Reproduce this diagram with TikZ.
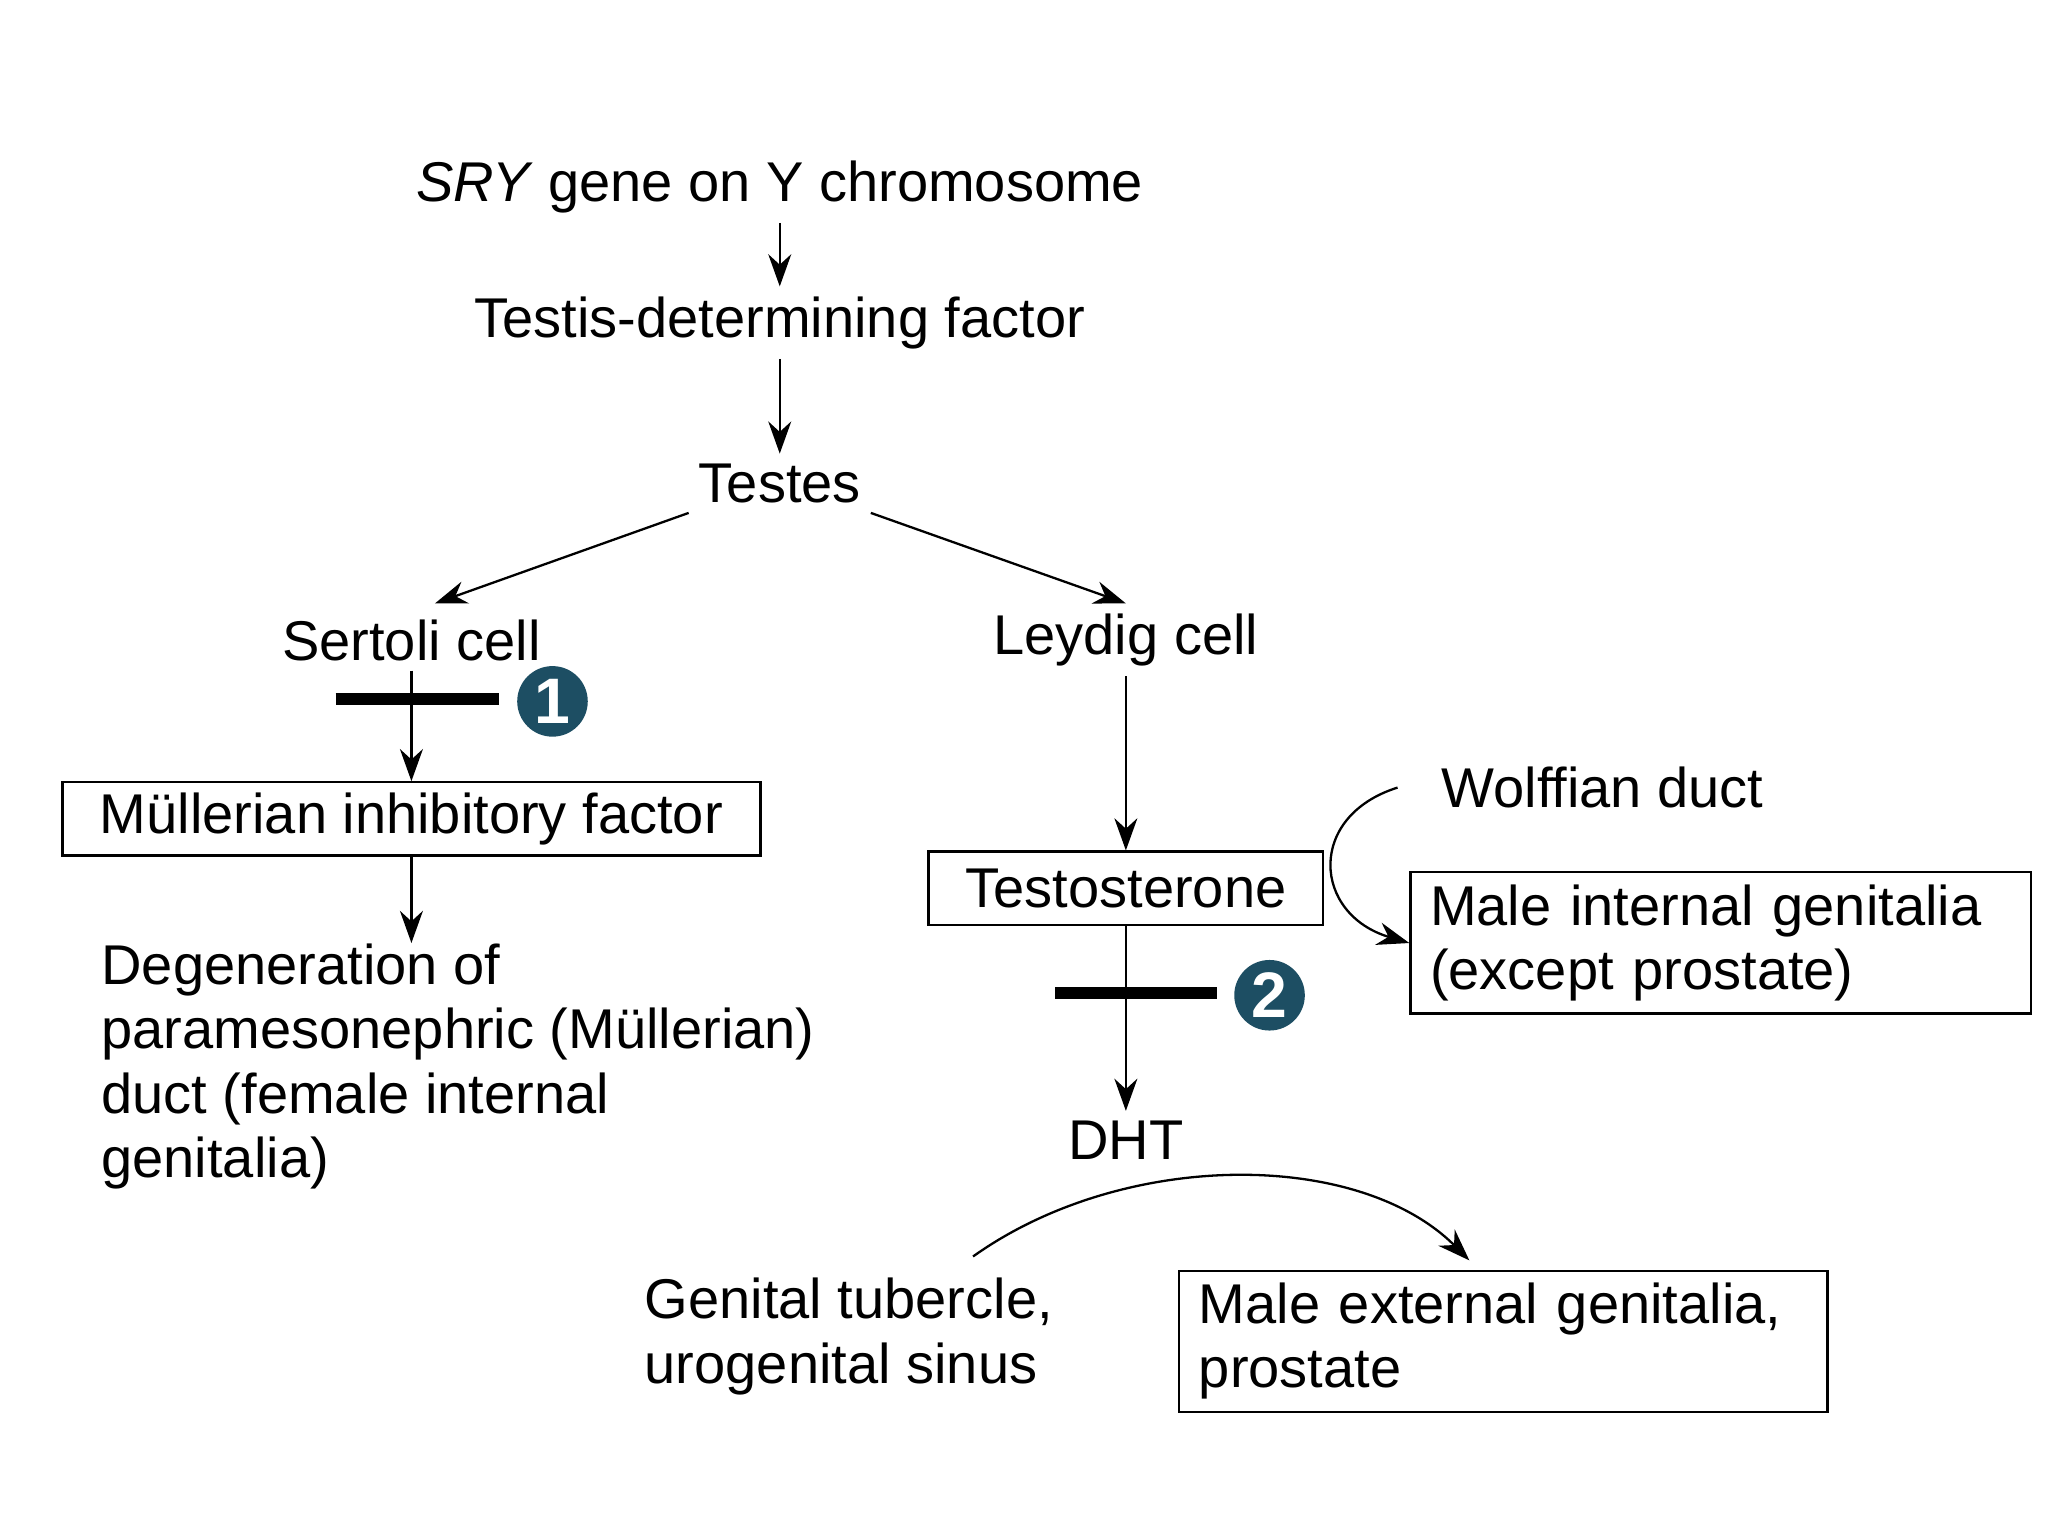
\documentclass[tikz,border=0pt]{standalone}
\usepackage{fontspec}
\setmainfont{Liberation Sans}
\usetikzlibrary{arrows.meta}
\definecolor{badge}{HTML}{1D4E63}
\tikzset{
  lbl/.style={font=\fontsize{12.2}{14}\selectfont, inner sep=2pt},
  box/.style={lbl, draw, line width=0.5pt, inner xsep=5pt},
  flow/.style={-{Stealth[length=7pt,width=5pt]}, line width=0.5pt},
  block/.style={line width=2.6pt},
  badgenode/.style={circle, fill=badge, text=white, inner sep=0pt, minimum size=0.54cm,
    font=\bfseries\fontsize{14}{14}\selectfont}
}
\begin{document}
\begin{tikzpicture}[x=0.01cm,y=-0.01cm]
  \useasboundingbox (0,0) rectangle (1568,1176);
  % main chain
  \node[lbl] (sry) at (597,143) {\textit{SRY} gene on Y chromosome};
  \node[lbl] (tdf) at (597,247) {Testis-determining factor};
  \node[lbl] (testes) at (597,370) {Testes};
  \node[lbl] (sertoli) at (315,490) {Sertoli cell};
  \node[lbl] (leydig) at (862,490) {Leydig cell};
  % left branch
  \node[box, minimum width=5.34cm, minimum height=0.56cm] (mif) at (315,627) {Müllerian inhibitory factor};
  \node[lbl, anchor=north west, align=left, inner sep=0pt] (degen) at (77,722)
    {Degeneration of\\paramesonephric (Müllerian)\\duct (female internal\\genitalia)};
  % right branch
  \node[box, minimum width=3.02cm, minimum height=0.56cm] (testo) at (862,680) {Testosterone};
  \node[lbl] (wolff) at (1227,603) {Wolffian duct};
  \node[box, anchor=north west, align=left, text width=4.45cm, inner xsep=0.15cm, minimum height=1.08cm] (maleint) at (1079,667)
    {Male internal genitalia\\(except prostate)};
  \node[lbl] (dht) at (862,873) {DHT};
  \node[lbl, anchor=north west, align=left, inner sep=0pt] (tuber) at (493,978)
    {Genital tubercle,\\urogenital sinus};
  \node[box, anchor=north west, align=left, text width=4.66cm, inner xsep=0.15cm, minimum height=1.08cm] (maleext) at (902,972)
    {Male external genitalia,\\prostate};
  % arrows
  \draw[flow] (testes.south west) -- (333,462);
  \draw[flow] (sry) -- (tdf);
  \draw[flow] (tdf) -- (testes);
  \draw[flow] (testes.south east) -- (862,462);
  \draw[flow] (sertoli) -- (mif);
  \draw[flow] (mif) -- (mif.south |- degen.north);
  \draw[flow] (leydig) -- (testo);
  \draw[flow] (testo) -- (dht);
  \draw[flow] (1070,603) .. controls (1000,625) and (1005,700) .. (maleint.west |- 0,722);
  \draw[flow] (745,962) .. controls (860,880) and (1040,880) .. (1125,965);
  % blocks
  \draw[block] (257,535) -- (382,535);
  \node[badgenode] (one) at (423,537) {1};
  \draw[block] (808,760) -- (932,760);
  \node[badgenode] (two) at (972,762) {2};
\end{tikzpicture}
\end{document}
